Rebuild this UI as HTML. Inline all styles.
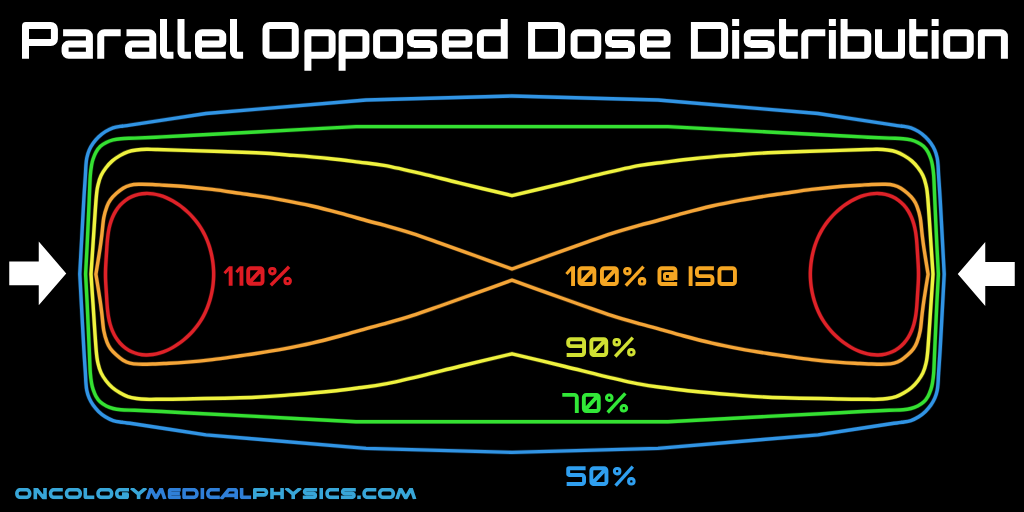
<!DOCTYPE html>
<html lang="en">
<head>
<meta charset="utf-8">
<title>Parallel Opposed Dose Distribution</title>
<style>
html,body{margin:0;padding:0;background:#000;font-family:"Liberation Sans",sans-serif;}
body{width:1024px;height:512px;overflow:hidden;}
svg{display:block;filter:blur(0.45px);}
</style>
</head>
<body>
<svg width="1024" height="512" viewBox="0 0 1024 512">
<rect width="1024" height="512" fill="#000"/>
<path d="M79.8 274.2C80.05 269.5 80.63 258.37 81.3 246C81.97 233.63 83.12 211.75 83.8 200C84.48 188.25 85.05 181.17 85.4 175.5C85.75 169.83 85.67 168.92 85.9 166C86.13 163.08 86.25 160.63 86.8 158C87.35 155.37 88.15 152.65 89.2 150.2C90.25 147.75 91.55 145.5 93.1 143.3C94.65 141.1 96.47 138.95 98.5 137C100.53 135.05 102.87 133.13 105.3 131.6C107.73 130.07 110.33 128.72 113.1 127.8C115.87 126.88 119.08 126.55 121.9 126.1C124.72 125.65 115.98 127.2 130 125.1C144.02 123 193.33 115.43 206 113.5L366 100L512 96L658 100L818 113.5C830.67 115.43 879.98 123 894 125.1C908.02 127.2 899.28 125.65 902.1 126.1C904.92 126.55 908.13 126.88 910.9 127.8C913.67 128.72 916.27 130.07 918.7 131.6C921.13 133.13 923.47 135.05 925.5 137C927.53 138.95 929.35 141.1 930.9 143.3C932.45 145.5 933.75 147.75 934.8 150.2C935.85 152.65 936.65 155.37 937.2 158C937.75 160.63 937.87 163.08 938.1 166C938.33 168.92 938.25 169.83 938.6 175.5C938.95 181.17 939.52 188.25 940.2 200C940.88 211.75 942.03 233.63 942.7 246C943.37 258.37 943.95 269.5 944.2 274.2C943.95 278.9 943.37 290.03 942.7 302.4C942.03 314.77 940.88 336.65 940.2 348.4C939.52 360.15 938.95 367.23 938.6 372.9C938.25 378.57 938.33 379.48 938.1 382.4C937.87 385.32 937.75 387.77 937.2 390.4C936.65 393.03 935.85 395.75 934.8 398.2C933.75 400.65 932.45 402.9 930.9 405.1C929.35 407.3 927.53 409.45 925.5 411.4C923.47 413.35 921.13 415.27 918.7 416.8C916.27 418.33 913.67 419.68 910.9 420.6C908.13 421.52 904.92 421.85 902.1 422.3C899.28 422.75 908.02 421.2 894 423.3C879.98 425.4 830.67 432.97 818 434.9L658 448.4L512 452.4L366 448.4L206 434.9C193.33 432.97 144.02 425.4 130 423.3C115.98 421.2 124.72 422.75 121.9 422.3C119.08 421.85 115.87 421.52 113.1 420.6C110.33 419.68 107.73 418.33 105.3 416.8C102.87 415.27 100.53 413.35 98.5 411.4C96.47 409.45 94.65 407.3 93.1 405.1C91.55 402.9 90.25 400.65 89.2 398.2C88.15 395.75 87.35 393.03 86.8 390.4C86.25 387.77 86.13 385.32 85.9 382.4C85.67 379.48 85.75 378.57 85.4 372.9C85.05 367.23 84.48 360.15 83.8 348.4C83.12 336.65 81.97 314.77 81.3 302.4C80.63 290.03 80.05 278.9 79.8 274.2Z" fill="none" stroke="#3194e4" stroke-width="4.6" stroke-opacity="0.25" stroke-linejoin="round"/>
<path d="M79.8 274.2C80.05 269.5 80.63 258.37 81.3 246C81.97 233.63 83.12 211.75 83.8 200C84.48 188.25 85.05 181.17 85.4 175.5C85.75 169.83 85.67 168.92 85.9 166C86.13 163.08 86.25 160.63 86.8 158C87.35 155.37 88.15 152.65 89.2 150.2C90.25 147.75 91.55 145.5 93.1 143.3C94.65 141.1 96.47 138.95 98.5 137C100.53 135.05 102.87 133.13 105.3 131.6C107.73 130.07 110.33 128.72 113.1 127.8C115.87 126.88 119.08 126.55 121.9 126.1C124.72 125.65 115.98 127.2 130 125.1C144.02 123 193.33 115.43 206 113.5L366 100L512 96L658 100L818 113.5C830.67 115.43 879.98 123 894 125.1C908.02 127.2 899.28 125.65 902.1 126.1C904.92 126.55 908.13 126.88 910.9 127.8C913.67 128.72 916.27 130.07 918.7 131.6C921.13 133.13 923.47 135.05 925.5 137C927.53 138.95 929.35 141.1 930.9 143.3C932.45 145.5 933.75 147.75 934.8 150.2C935.85 152.65 936.65 155.37 937.2 158C937.75 160.63 937.87 163.08 938.1 166C938.33 168.92 938.25 169.83 938.6 175.5C938.95 181.17 939.52 188.25 940.2 200C940.88 211.75 942.03 233.63 942.7 246C943.37 258.37 943.95 269.5 944.2 274.2C943.95 278.9 943.37 290.03 942.7 302.4C942.03 314.77 940.88 336.65 940.2 348.4C939.52 360.15 938.95 367.23 938.6 372.9C938.25 378.57 938.33 379.48 938.1 382.4C937.87 385.32 937.75 387.77 937.2 390.4C936.65 393.03 935.85 395.75 934.8 398.2C933.75 400.65 932.45 402.9 930.9 405.1C929.35 407.3 927.53 409.45 925.5 411.4C923.47 413.35 921.13 415.27 918.7 416.8C916.27 418.33 913.67 419.68 910.9 420.6C908.13 421.52 904.92 421.85 902.1 422.3C899.28 422.75 908.02 421.2 894 423.3C879.98 425.4 830.67 432.97 818 434.9L658 448.4L512 452.4L366 448.4L206 434.9C193.33 432.97 144.02 425.4 130 423.3C115.98 421.2 124.72 422.75 121.9 422.3C119.08 421.85 115.87 421.52 113.1 420.6C110.33 419.68 107.73 418.33 105.3 416.8C102.87 415.27 100.53 413.35 98.5 411.4C96.47 409.45 94.65 407.3 93.1 405.1C91.55 402.9 90.25 400.65 89.2 398.2C88.15 395.75 87.35 393.03 86.8 390.4C86.25 387.77 86.13 385.32 85.9 382.4C85.67 379.48 85.75 378.57 85.4 372.9C85.05 367.23 84.48 360.15 83.8 348.4C83.12 336.65 81.97 314.77 81.3 302.4C80.63 290.03 80.05 278.9 79.8 274.2Z" fill="none" stroke="#3194e4" stroke-width="3.4" stroke-linejoin="round" stroke-linecap="round"/>
<path d="M85.6 274.2C85.85 269.5 86.5 258.37 87.1 246C87.7 233.63 88.67 211.75 89.2 200C89.73 188.25 89.88 181.42 90.3 175.5C90.72 169.58 91.23 167.25 91.7 164.5C92.17 161.75 92.38 161.07 93.1 159C93.82 156.93 94.78 154.22 96 152.1C97.22 149.98 98.68 147.92 100.4 146.3C102.12 144.68 104.18 143.47 106.3 142.4C108.42 141.33 110.67 140.52 113.1 139.9C115.53 139.28 117.32 139 120.9 138.7C124.48 138.4 128.75 138.35 134.6 138.1C140.45 137.85 147.77 137.6 156 137.2C164.23 136.8 167.33 136.57 184 135.7C200.67 134.83 227.33 133.52 256 132C284.67 130.48 339.33 127.5 356 126.6L512 126.6L668 126.6C684.67 127.5 739.33 130.48 768 132C796.67 133.52 823.33 134.83 840 135.7C856.67 136.57 859.77 136.8 868 137.2C876.23 137.6 883.55 137.85 889.4 138.1C895.25 138.35 899.52 138.4 903.1 138.7C906.68 139 908.47 139.28 910.9 139.9C913.33 140.52 915.58 141.33 917.7 142.4C919.82 143.47 921.88 144.68 923.6 146.3C925.32 147.92 926.78 149.98 928 152.1C929.22 154.22 930.18 156.93 930.9 159C931.62 161.07 931.83 161.75 932.3 164.5C932.77 167.25 933.28 169.58 933.7 175.5C934.12 181.42 934.27 188.25 934.8 200C935.33 211.75 936.3 233.63 936.9 246C937.5 258.37 938.15 269.5 938.4 274.2C938.15 278.9 937.5 290.03 936.9 302.4C936.3 314.77 935.33 336.65 934.8 348.4C934.27 360.15 934.12 366.98 933.7 372.9C933.28 378.82 932.77 381.15 932.3 383.9C931.83 386.65 931.62 387.33 930.9 389.4C930.18 391.47 929.22 394.18 928 396.3C926.78 398.42 925.32 400.48 923.6 402.1C921.88 403.72 919.82 404.93 917.7 406C915.58 407.07 913.33 407.88 910.9 408.5C908.47 409.12 906.68 409.4 903.1 409.7C899.52 410 895.25 410.05 889.4 410.3C883.55 410.55 876.23 410.8 868 411.2C859.77 411.6 856.67 411.83 840 412.7C823.33 413.57 796.67 414.88 768 416.4C739.33 417.92 684.67 420.9 668 421.8L512 421.8L356 421.8C339.33 420.9 284.67 417.92 256 416.4C227.33 414.88 200.67 413.57 184 412.7C167.33 411.83 164.23 411.6 156 411.2C147.77 410.8 140.45 410.55 134.6 410.3C128.75 410.05 124.48 410 120.9 409.7C117.32 409.4 115.53 409.12 113.1 408.5C110.67 407.88 108.42 407.07 106.3 406C104.18 404.93 102.12 403.72 100.4 402.1C98.68 400.48 97.22 398.42 96 396.3C94.78 394.18 93.82 391.47 93.1 389.4C92.38 387.33 92.17 386.65 91.7 383.9C91.23 381.15 90.72 378.82 90.3 372.9C89.88 366.98 89.73 360.15 89.2 348.4C88.67 336.65 87.7 314.77 87.1 302.4C86.5 290.03 85.85 278.9 85.6 274.2Z" fill="none" stroke="#35e032" stroke-width="4.6" stroke-opacity="0.25" stroke-linejoin="round"/>
<path d="M85.6 274.2C85.85 269.5 86.5 258.37 87.1 246C87.7 233.63 88.67 211.75 89.2 200C89.73 188.25 89.88 181.42 90.3 175.5C90.72 169.58 91.23 167.25 91.7 164.5C92.17 161.75 92.38 161.07 93.1 159C93.82 156.93 94.78 154.22 96 152.1C97.22 149.98 98.68 147.92 100.4 146.3C102.12 144.68 104.18 143.47 106.3 142.4C108.42 141.33 110.67 140.52 113.1 139.9C115.53 139.28 117.32 139 120.9 138.7C124.48 138.4 128.75 138.35 134.6 138.1C140.45 137.85 147.77 137.6 156 137.2C164.23 136.8 167.33 136.57 184 135.7C200.67 134.83 227.33 133.52 256 132C284.67 130.48 339.33 127.5 356 126.6L512 126.6L668 126.6C684.67 127.5 739.33 130.48 768 132C796.67 133.52 823.33 134.83 840 135.7C856.67 136.57 859.77 136.8 868 137.2C876.23 137.6 883.55 137.85 889.4 138.1C895.25 138.35 899.52 138.4 903.1 138.7C906.68 139 908.47 139.28 910.9 139.9C913.33 140.52 915.58 141.33 917.7 142.4C919.82 143.47 921.88 144.68 923.6 146.3C925.32 147.92 926.78 149.98 928 152.1C929.22 154.22 930.18 156.93 930.9 159C931.62 161.07 931.83 161.75 932.3 164.5C932.77 167.25 933.28 169.58 933.7 175.5C934.12 181.42 934.27 188.25 934.8 200C935.33 211.75 936.3 233.63 936.9 246C937.5 258.37 938.15 269.5 938.4 274.2C938.15 278.9 937.5 290.03 936.9 302.4C936.3 314.77 935.33 336.65 934.8 348.4C934.27 360.15 934.12 366.98 933.7 372.9C933.28 378.82 932.77 381.15 932.3 383.9C931.83 386.65 931.62 387.33 930.9 389.4C930.18 391.47 929.22 394.18 928 396.3C926.78 398.42 925.32 400.48 923.6 402.1C921.88 403.72 919.82 404.93 917.7 406C915.58 407.07 913.33 407.88 910.9 408.5C908.47 409.12 906.68 409.4 903.1 409.7C899.52 410 895.25 410.05 889.4 410.3C883.55 410.55 876.23 410.8 868 411.2C859.77 411.6 856.67 411.83 840 412.7C823.33 413.57 796.67 414.88 768 416.4C739.33 417.92 684.67 420.9 668 421.8L512 421.8L356 421.8C339.33 420.9 284.67 417.92 256 416.4C227.33 414.88 200.67 413.57 184 412.7C167.33 411.83 164.23 411.6 156 411.2C147.77 410.8 140.45 410.55 134.6 410.3C128.75 410.05 124.48 410 120.9 409.7C117.32 409.4 115.53 409.12 113.1 408.5C110.67 407.88 108.42 407.07 106.3 406C104.18 404.93 102.12 403.72 100.4 402.1C98.68 400.48 97.22 398.42 96 396.3C94.78 394.18 93.82 391.47 93.1 389.4C92.38 387.33 92.17 386.65 91.7 383.9C91.23 381.15 90.72 378.82 90.3 372.9C89.88 366.98 89.73 360.15 89.2 348.4C88.67 336.65 87.7 314.77 87.1 302.4C86.5 290.03 85.85 278.9 85.6 274.2Z" fill="none" stroke="#35e032" stroke-width="3.4" stroke-linejoin="round" stroke-linecap="round"/>
<path d="M91 274.2C91.32 269.5 92.03 258.7 92.9 246C93.77 233.3 95.32 208.28 96.2 198C97.08 187.72 97.38 188.05 98.2 184.3C99.02 180.55 99.8 178.27 101.1 175.5C102.4 172.73 104.13 170.13 106 167.7C107.87 165.27 109.98 162.92 112.3 160.9C114.62 158.88 117.32 157.12 119.9 155.6C122.48 154.08 125.03 152.73 127.8 151.8C130.57 150.87 133.38 150.42 136.5 150C139.62 149.58 143.25 149.38 146.5 149.3C149.75 149.22 149.72 149.32 156 149.5C162.28 149.68 167.53 149.85 184.2 150.4C200.87 150.95 237.78 151.97 256 152.8C274.22 153.63 281 154.42 293.5 155.4C306 156.38 320.08 157.58 331 158.7C341.92 159.82 350.17 160.98 359 162.1C367.83 163.22 373.58 163.48 384 165.4C394.42 167.32 409 170.68 421.5 173.6C434 176.52 443.92 179.23 459 182.9C474.08 186.57 503.17 193.48 512 195.6C520.83 193.48 549.92 186.57 565 182.9C580.08 179.23 590 176.52 602.5 173.6C615 170.68 629.58 167.32 640 165.4C650.42 163.48 656.17 163.22 665 162.1C673.83 160.98 682.08 159.82 693 158.7C703.92 157.58 718 156.38 730.5 155.4C743 154.42 749.78 153.63 768 152.8C786.22 151.97 823.13 150.95 839.8 150.4C856.47 149.85 861.72 149.68 868 149.5C874.28 149.32 874.25 149.22 877.5 149.3C880.75 149.38 884.38 149.58 887.5 150C890.62 150.42 893.43 150.87 896.2 151.8C898.97 152.73 901.52 154.08 904.1 155.6C906.68 157.12 909.38 158.88 911.7 160.9C914.02 162.92 916.13 165.27 918 167.7C919.87 170.13 921.6 172.73 922.9 175.5C924.2 178.27 924.98 180.55 925.8 184.3C926.62 188.05 926.92 187.72 927.8 198C928.68 208.28 930.23 233.3 931.1 246C931.97 258.7 932.68 269.5 933 274.2C932.68 278.9 931.97 289.7 931.1 302.4C930.23 315.1 928.68 340.12 927.8 350.4C926.92 360.68 926.62 360.35 925.8 364.1C924.98 367.85 924.2 370.13 922.9 372.9C921.6 375.67 919.87 378.27 918 380.7C916.13 383.13 914.02 385.48 911.7 387.5C909.38 389.52 906.68 391.28 904.1 392.8C901.52 394.32 898.97 395.67 896.2 396.61C893.43 397.56 890.62 398.03 887.5 398.48C884.38 398.92 880.75 399.17 877.5 399.3C874.25 399.43 874.28 399.32 868 399.26C861.72 399.21 856.47 399.3 839.8 398.96C823.13 398.61 786.22 397.93 768 397.2C749.78 396.47 743 395.58 730.5 394.6C718 393.62 703.92 392.44 693 391.3C682.08 390.16 673.83 388.98 665 387.78C656.17 386.59 650.42 386.13 640 384.13C629.58 382.13 615 378.74 602.5 375.8C590 372.86 580.08 370.17 565 366.5C549.92 362.83 520.83 355.92 512 353.8C503.17 355.92 474.08 362.83 459 366.5C443.92 370.17 434 372.86 421.5 375.8C409 378.74 394.42 382.13 384 384.13C373.58 386.13 367.83 386.59 359 387.78C350.17 388.98 341.92 390.16 331 391.3C320.08 392.44 306 393.62 293.5 394.6C281 395.58 274.22 396.47 256 397.2C237.78 397.93 200.87 398.61 184.2 398.96C167.53 399.3 162.28 399.21 156 399.26C149.72 399.32 149.75 399.43 146.5 399.3C143.25 399.17 139.62 398.92 136.5 398.48C133.38 398.03 130.57 397.56 127.8 396.61C125.03 395.67 122.48 394.32 119.9 392.8C117.32 391.28 114.62 389.52 112.3 387.5C109.98 385.48 107.87 383.13 106 380.7C104.13 378.27 102.4 375.67 101.1 372.9C99.8 370.13 99.02 367.85 98.2 364.1C97.38 360.35 97.08 360.68 96.2 350.4C95.32 340.12 93.77 315.1 92.9 302.4C92.03 289.7 91.32 278.9 91 274.2Z" fill="none" stroke="#eff23f" stroke-width="4.6" stroke-opacity="0.25" stroke-linejoin="round"/>
<path d="M91 274.2C91.32 269.5 92.03 258.7 92.9 246C93.77 233.3 95.32 208.28 96.2 198C97.08 187.72 97.38 188.05 98.2 184.3C99.02 180.55 99.8 178.27 101.1 175.5C102.4 172.73 104.13 170.13 106 167.7C107.87 165.27 109.98 162.92 112.3 160.9C114.62 158.88 117.32 157.12 119.9 155.6C122.48 154.08 125.03 152.73 127.8 151.8C130.57 150.87 133.38 150.42 136.5 150C139.62 149.58 143.25 149.38 146.5 149.3C149.75 149.22 149.72 149.32 156 149.5C162.28 149.68 167.53 149.85 184.2 150.4C200.87 150.95 237.78 151.97 256 152.8C274.22 153.63 281 154.42 293.5 155.4C306 156.38 320.08 157.58 331 158.7C341.92 159.82 350.17 160.98 359 162.1C367.83 163.22 373.58 163.48 384 165.4C394.42 167.32 409 170.68 421.5 173.6C434 176.52 443.92 179.23 459 182.9C474.08 186.57 503.17 193.48 512 195.6C520.83 193.48 549.92 186.57 565 182.9C580.08 179.23 590 176.52 602.5 173.6C615 170.68 629.58 167.32 640 165.4C650.42 163.48 656.17 163.22 665 162.1C673.83 160.98 682.08 159.82 693 158.7C703.92 157.58 718 156.38 730.5 155.4C743 154.42 749.78 153.63 768 152.8C786.22 151.97 823.13 150.95 839.8 150.4C856.47 149.85 861.72 149.68 868 149.5C874.28 149.32 874.25 149.22 877.5 149.3C880.75 149.38 884.38 149.58 887.5 150C890.62 150.42 893.43 150.87 896.2 151.8C898.97 152.73 901.52 154.08 904.1 155.6C906.68 157.12 909.38 158.88 911.7 160.9C914.02 162.92 916.13 165.27 918 167.7C919.87 170.13 921.6 172.73 922.9 175.5C924.2 178.27 924.98 180.55 925.8 184.3C926.62 188.05 926.92 187.72 927.8 198C928.68 208.28 930.23 233.3 931.1 246C931.97 258.7 932.68 269.5 933 274.2C932.68 278.9 931.97 289.7 931.1 302.4C930.23 315.1 928.68 340.12 927.8 350.4C926.92 360.68 926.62 360.35 925.8 364.1C924.98 367.85 924.2 370.13 922.9 372.9C921.6 375.67 919.87 378.27 918 380.7C916.13 383.13 914.02 385.48 911.7 387.5C909.38 389.52 906.68 391.28 904.1 392.8C901.52 394.32 898.97 395.67 896.2 396.61C893.43 397.56 890.62 398.03 887.5 398.48C884.38 398.92 880.75 399.17 877.5 399.3C874.25 399.43 874.28 399.32 868 399.26C861.72 399.21 856.47 399.3 839.8 398.96C823.13 398.61 786.22 397.93 768 397.2C749.78 396.47 743 395.58 730.5 394.6C718 393.62 703.92 392.44 693 391.3C682.08 390.16 673.83 388.98 665 387.78C656.17 386.59 650.42 386.13 640 384.13C629.58 382.13 615 378.74 602.5 375.8C590 372.86 580.08 370.17 565 366.5C549.92 362.83 520.83 355.92 512 353.8C503.17 355.92 474.08 362.83 459 366.5C443.92 370.17 434 372.86 421.5 375.8C409 378.74 394.42 382.13 384 384.13C373.58 386.13 367.83 386.59 359 387.78C350.17 388.98 341.92 390.16 331 391.3C320.08 392.44 306 393.62 293.5 394.6C281 395.58 274.22 396.47 256 397.2C237.78 397.93 200.87 398.61 184.2 398.96C167.53 399.3 162.28 399.21 156 399.26C149.72 399.32 149.75 399.43 146.5 399.3C143.25 399.17 139.62 398.92 136.5 398.48C133.38 398.03 130.57 397.56 127.8 396.61C125.03 395.67 122.48 394.32 119.9 392.8C117.32 391.28 114.62 389.52 112.3 387.5C109.98 385.48 107.87 383.13 106 380.7C104.13 378.27 102.4 375.67 101.1 372.9C99.8 370.13 99.02 367.85 98.2 364.1C97.38 360.35 97.08 360.68 96.2 350.4C95.32 340.12 93.77 315.1 92.9 302.4C92.03 289.7 91.32 278.9 91 274.2Z" fill="none" stroke="#eff23f" stroke-width="3.4" stroke-linejoin="round" stroke-linecap="round"/>
<path d="M95.9 274.2C96.6 269.83 99.1 254.67 100.1 248C101.1 241.33 101.28 239.27 101.9 234.2C102.52 229.13 102.95 222.25 103.8 217.6C104.65 212.95 105.88 209.28 107 206.3C108.12 203.32 108.97 201.82 110.5 199.7C112.03 197.58 114.1 195.52 116.2 193.6C118.3 191.68 120.82 189.58 123.1 188.2C125.38 186.82 127.3 185.95 129.9 185.3C132.5 184.65 134.95 184.43 138.7 184.3C142.45 184.17 148.18 184.35 152.4 184.5C156.62 184.65 158.7 184.87 164 185.2C169.3 185.53 176.15 185.8 184.2 186.5C192.25 187.2 202.93 188.25 212.3 189.4C221.67 190.55 233.12 192.37 240.4 193.4C247.68 194.43 248.73 194.45 256 195.6C263.27 196.75 274.67 198.57 284 200.3C293.33 202.03 302.67 203.87 312 206C321.33 208.13 330.67 210.6 340 213.1C349.33 215.6 360.67 218.98 368 221C375.33 223.02 376.67 223.13 384 225.2C391.33 227.27 402.67 230.42 412 233.4C421.33 236.38 429.33 239.33 440 243.1C450.67 246.87 464 251.68 476 256C488 260.32 506 266.83 512 269C518 266.83 536 260.32 548 256C560 251.68 573.33 246.87 584 243.1C594.67 239.33 602.67 236.38 612 233.4C621.33 230.42 632.67 227.27 640 225.2C647.33 223.13 648.67 223.02 656 221C663.33 218.98 674.67 215.6 684 213.1C693.33 210.6 702.67 208.13 712 206C721.33 203.87 730.67 202.03 740 200.3C749.33 198.57 760.73 196.75 768 195.6C775.27 194.45 776.32 194.43 783.6 193.4C790.88 192.37 802.33 190.55 811.7 189.4C821.07 188.25 831.75 187.2 839.8 186.5C847.85 185.8 854.7 185.53 860 185.2C865.3 184.87 867.38 184.65 871.6 184.5C875.82 184.35 881.55 184.17 885.3 184.3C889.05 184.43 891.5 184.65 894.1 185.3C896.7 185.95 898.62 186.82 900.9 188.2C903.18 189.58 905.7 191.68 907.8 193.6C909.9 195.52 911.97 197.58 913.5 199.7C915.03 201.82 915.88 203.32 917 206.3C918.12 209.28 919.35 212.95 920.2 217.6C921.05 222.25 921.48 229.13 922.1 234.2C922.72 239.27 922.9 241.33 923.9 248C924.9 254.67 927.4 269.83 928.1 274.2C927.4 278.57 924.9 293.73 923.9 300.4C922.9 307.07 922.72 309.13 922.1 314.2C921.48 319.27 921.05 326.15 920.2 330.8C919.35 335.45 918.12 339.12 917 342.1C915.88 345.08 915.03 346.58 913.5 348.7C911.97 350.82 909.9 352.88 907.8 354.8C905.7 356.72 903.18 358.82 900.9 360.2C898.62 361.59 896.7 362.45 894.1 363.11C891.5 363.77 889.05 363.99 885.3 364.14C881.55 364.3 875.82 364.15 871.6 364.03C867.38 363.91 865.3 363.71 860 363.43C854.7 363.14 847.85 362.95 839.8 362.32C831.75 361.69 821.07 360.74 811.7 359.64C802.33 358.54 790.88 356.72 783.6 355.7C776.32 354.68 775.27 354.65 768 353.5C760.73 352.35 749.33 350.53 740 348.8C730.67 347.07 721.33 345.23 712 343.1C702.67 340.97 693.33 338.5 684 336C674.67 333.5 663.33 330.12 656 328.1C648.67 326.08 647.33 325.97 640 323.9C632.67 321.83 621.33 318.68 612 315.7C602.67 312.72 594.67 309.77 584 306C573.33 302.23 560 297.42 548 293.1C536 288.78 518 282.27 512 280.1C506 282.27 488 288.78 476 293.1C464 297.42 450.67 302.23 440 306C429.33 309.77 421.33 312.72 412 315.7C402.67 318.68 391.33 321.83 384 323.9C376.67 325.97 375.33 326.08 368 328.1C360.67 330.12 349.33 333.5 340 336C330.67 338.5 321.33 340.97 312 343.1C302.67 345.23 293.33 347.07 284 348.8C274.67 350.53 263.27 352.35 256 353.5C248.73 354.65 247.68 354.68 240.4 355.7C233.12 356.72 221.67 358.54 212.3 359.64C202.93 360.74 192.25 361.69 184.2 362.32C176.15 362.95 169.3 363.14 164 363.43C158.7 363.71 156.62 363.91 152.4 364.03C148.18 364.15 142.45 364.3 138.7 364.14C134.95 363.99 132.5 363.77 129.9 363.11C127.3 362.45 125.38 361.59 123.1 360.2C120.82 358.82 118.3 356.72 116.2 354.8C114.1 352.88 112.03 350.82 110.5 348.7C108.97 346.58 108.12 345.08 107 342.1C105.88 339.12 104.65 335.45 103.8 330.8C102.95 326.15 102.52 319.27 101.9 314.2C101.28 309.13 101.1 307.07 100.1 300.4C99.1 293.73 96.6 278.57 95.9 274.2Z" fill="none" stroke="#f4a538" stroke-width="4.6" stroke-opacity="0.25" stroke-linejoin="round"/>
<path d="M95.9 274.2C96.6 269.83 99.1 254.67 100.1 248C101.1 241.33 101.28 239.27 101.9 234.2C102.52 229.13 102.95 222.25 103.8 217.6C104.65 212.95 105.88 209.28 107 206.3C108.12 203.32 108.97 201.82 110.5 199.7C112.03 197.58 114.1 195.52 116.2 193.6C118.3 191.68 120.82 189.58 123.1 188.2C125.38 186.82 127.3 185.95 129.9 185.3C132.5 184.65 134.95 184.43 138.7 184.3C142.45 184.17 148.18 184.35 152.4 184.5C156.62 184.65 158.7 184.87 164 185.2C169.3 185.53 176.15 185.8 184.2 186.5C192.25 187.2 202.93 188.25 212.3 189.4C221.67 190.55 233.12 192.37 240.4 193.4C247.68 194.43 248.73 194.45 256 195.6C263.27 196.75 274.67 198.57 284 200.3C293.33 202.03 302.67 203.87 312 206C321.33 208.13 330.67 210.6 340 213.1C349.33 215.6 360.67 218.98 368 221C375.33 223.02 376.67 223.13 384 225.2C391.33 227.27 402.67 230.42 412 233.4C421.33 236.38 429.33 239.33 440 243.1C450.67 246.87 464 251.68 476 256C488 260.32 506 266.83 512 269C518 266.83 536 260.32 548 256C560 251.68 573.33 246.87 584 243.1C594.67 239.33 602.67 236.38 612 233.4C621.33 230.42 632.67 227.27 640 225.2C647.33 223.13 648.67 223.02 656 221C663.33 218.98 674.67 215.6 684 213.1C693.33 210.6 702.67 208.13 712 206C721.33 203.87 730.67 202.03 740 200.3C749.33 198.57 760.73 196.75 768 195.6C775.27 194.45 776.32 194.43 783.6 193.4C790.88 192.37 802.33 190.55 811.7 189.4C821.07 188.25 831.75 187.2 839.8 186.5C847.85 185.8 854.7 185.53 860 185.2C865.3 184.87 867.38 184.65 871.6 184.5C875.82 184.35 881.55 184.17 885.3 184.3C889.05 184.43 891.5 184.65 894.1 185.3C896.7 185.95 898.62 186.82 900.9 188.2C903.18 189.58 905.7 191.68 907.8 193.6C909.9 195.52 911.97 197.58 913.5 199.7C915.03 201.82 915.88 203.32 917 206.3C918.12 209.28 919.35 212.95 920.2 217.6C921.05 222.25 921.48 229.13 922.1 234.2C922.72 239.27 922.9 241.33 923.9 248C924.9 254.67 927.4 269.83 928.1 274.2C927.4 278.57 924.9 293.73 923.9 300.4C922.9 307.07 922.72 309.13 922.1 314.2C921.48 319.27 921.05 326.15 920.2 330.8C919.35 335.45 918.12 339.12 917 342.1C915.88 345.08 915.03 346.58 913.5 348.7C911.97 350.82 909.9 352.88 907.8 354.8C905.7 356.72 903.18 358.82 900.9 360.2C898.62 361.59 896.7 362.45 894.1 363.11C891.5 363.77 889.05 363.99 885.3 364.14C881.55 364.3 875.82 364.15 871.6 364.03C867.38 363.91 865.3 363.71 860 363.43C854.7 363.14 847.85 362.95 839.8 362.32C831.75 361.69 821.07 360.74 811.7 359.64C802.33 358.54 790.88 356.72 783.6 355.7C776.32 354.68 775.27 354.65 768 353.5C760.73 352.35 749.33 350.53 740 348.8C730.67 347.07 721.33 345.23 712 343.1C702.67 340.97 693.33 338.5 684 336C674.67 333.5 663.33 330.12 656 328.1C648.67 326.08 647.33 325.97 640 323.9C632.67 321.83 621.33 318.68 612 315.7C602.67 312.72 594.67 309.77 584 306C573.33 302.23 560 297.42 548 293.1C536 288.78 518 282.27 512 280.1C506 282.27 488 288.78 476 293.1C464 297.42 450.67 302.23 440 306C429.33 309.77 421.33 312.72 412 315.7C402.67 318.68 391.33 321.83 384 323.9C376.67 325.97 375.33 326.08 368 328.1C360.67 330.12 349.33 333.5 340 336C330.67 338.5 321.33 340.97 312 343.1C302.67 345.23 293.33 347.07 284 348.8C274.67 350.53 263.27 352.35 256 353.5C248.73 354.65 247.68 354.68 240.4 355.7C233.12 356.72 221.67 358.54 212.3 359.64C202.93 360.74 192.25 361.69 184.2 362.32C176.15 362.95 169.3 363.14 164 363.43C158.7 363.71 156.62 363.91 152.4 364.03C148.18 364.15 142.45 364.3 138.7 364.14C134.95 363.99 132.5 363.77 129.9 363.11C127.3 362.45 125.38 361.59 123.1 360.2C120.82 358.82 118.3 356.72 116.2 354.8C114.1 352.88 112.03 350.82 110.5 348.7C108.97 346.58 108.12 345.08 107 342.1C105.88 339.12 104.65 335.45 103.8 330.8C102.95 326.15 102.52 319.27 101.9 314.2C101.28 309.13 101.1 307.07 100.1 300.4C99.1 293.73 96.6 278.57 95.9 274.2Z" fill="none" stroke="#f4a538" stroke-width="3.4" stroke-linejoin="round" stroke-linecap="round"/>
<path d="M213.66 274.2C213.66 272.64 213.62 271.08 213.53 269.52C213.45 267.95 213.33 266.39 213.16 264.83C213 263.26 212.79 261.69 212.54 260.12C212.3 258.55 212.01 256.97 211.68 255.39C211.34 253.81 210.97 252.22 210.55 250.63C210.13 249.03 209.66 247.43 209.14 245.83C208.62 244.22 208.05 242.61 207.42 241C206.79 239.38 206.1 237.77 205.34 236.15C204.58 234.54 203.76 232.93 202.87 231.33C201.98 229.73 201.01 228.13 199.98 226.56C198.94 224.98 197.83 223.42 196.64 221.87C195.45 220.33 194.19 218.81 192.85 217.31C191.5 215.81 190.09 214.33 188.59 212.89C187.09 211.45 185.51 210.03 183.85 208.66C182.19 207.29 180.45 205.95 178.63 204.68C176.8 203.41 174.89 202.17 172.9 201.04C170.91 199.9 168.83 198.82 166.68 197.89C164.53 196.95 162.28 196.09 160 195.42C157.72 194.75 155.34 194.19 152.97 193.86C150.6 193.53 148.16 193.36 145.76 193.44C143.36 193.51 140.93 193.79 138.6 194.32C136.26 194.85 133.94 195.61 131.76 196.61C129.58 197.6 127.46 198.84 125.52 200.27C123.59 201.69 121.77 203.37 120.14 205.16C118.51 206.95 117.04 208.96 115.76 211.02C114.47 213.08 113.38 215.3 112.43 217.51C111.49 219.72 110.74 222.04 110.09 224.29C109.45 226.55 108.98 228.84 108.58 231.05C108.17 233.26 107.9 235.45 107.66 237.55C107.41 239.65 107.26 241.69 107.11 243.66C106.95 245.63 106.84 247.52 106.73 249.36C106.61 251.2 106.51 252.96 106.4 254.69C106.29 256.42 106.18 258.09 106.08 259.75C105.97 261.41 105.87 263.03 105.78 264.64C105.7 266.25 105.62 267.84 105.57 269.44C105.52 271.03 105.49 272.61 105.49 274.2C105.49 275.79 105.52 277.37 105.57 278.96C105.62 280.56 105.7 282.15 105.78 283.76C105.87 285.37 105.97 286.99 106.08 288.65C106.18 290.31 106.29 291.98 106.4 293.71C106.51 295.44 106.61 297.2 106.73 299.04C106.84 300.88 106.95 302.77 107.11 304.74C107.26 306.71 107.41 308.75 107.66 310.85C107.9 312.95 108.17 315.14 108.58 317.35C108.98 319.56 109.45 321.85 110.09 324.11C110.74 326.36 111.49 328.68 112.43 330.89C113.38 333.1 114.47 335.32 115.76 337.38C117.04 339.44 118.51 341.45 120.14 343.24C121.77 345.03 123.59 346.71 125.52 348.13C127.46 349.56 129.58 350.8 131.76 351.79C133.94 352.79 136.26 353.55 138.6 354.08C140.93 354.61 143.36 354.89 145.76 354.96C148.16 355.04 150.6 354.87 152.97 354.54C155.34 354.21 157.72 353.65 160 352.98C162.28 352.31 164.53 351.45 166.68 350.51C168.83 349.58 170.91 348.5 172.9 347.36C174.89 346.23 176.8 344.99 178.63 343.72C180.45 342.45 182.19 341.11 183.85 339.74C185.51 338.37 187.09 336.95 188.59 335.51C190.09 334.07 191.5 332.59 192.85 331.09C194.19 329.59 195.45 328.07 196.64 326.53C197.83 324.98 198.94 323.42 199.98 321.84C201.01 320.27 201.98 318.67 202.87 317.07C203.76 315.47 204.58 313.86 205.34 312.25C206.1 310.63 206.79 309.02 207.42 307.4C208.05 305.79 208.62 304.18 209.14 302.57C209.66 300.97 210.13 299.37 210.55 297.77C210.97 296.18 211.34 294.59 211.68 293.01C212.01 291.43 212.3 289.85 212.54 288.28C212.79 286.71 213 285.14 213.16 283.57C213.33 282.01 213.45 280.45 213.53 278.88C213.62 277.32 213.66 275.76 213.66 274.2Z" fill="none" stroke="#de2228" stroke-width="4.6" stroke-opacity="0.25" stroke-linejoin="round"/>
<path d="M213.66 274.2C213.66 272.64 213.62 271.08 213.53 269.52C213.45 267.95 213.33 266.39 213.16 264.83C213 263.26 212.79 261.69 212.54 260.12C212.3 258.55 212.01 256.97 211.68 255.39C211.34 253.81 210.97 252.22 210.55 250.63C210.13 249.03 209.66 247.43 209.14 245.83C208.62 244.22 208.05 242.61 207.42 241C206.79 239.38 206.1 237.77 205.34 236.15C204.58 234.54 203.76 232.93 202.87 231.33C201.98 229.73 201.01 228.13 199.98 226.56C198.94 224.98 197.83 223.42 196.64 221.87C195.45 220.33 194.19 218.81 192.85 217.31C191.5 215.81 190.09 214.33 188.59 212.89C187.09 211.45 185.51 210.03 183.85 208.66C182.19 207.29 180.45 205.95 178.63 204.68C176.8 203.41 174.89 202.17 172.9 201.04C170.91 199.9 168.83 198.82 166.68 197.89C164.53 196.95 162.28 196.09 160 195.42C157.72 194.75 155.34 194.19 152.97 193.86C150.6 193.53 148.16 193.36 145.76 193.44C143.36 193.51 140.93 193.79 138.6 194.32C136.26 194.85 133.94 195.61 131.76 196.61C129.58 197.6 127.46 198.84 125.52 200.27C123.59 201.69 121.77 203.37 120.14 205.16C118.51 206.95 117.04 208.96 115.76 211.02C114.47 213.08 113.38 215.3 112.43 217.51C111.49 219.72 110.74 222.04 110.09 224.29C109.45 226.55 108.98 228.84 108.58 231.05C108.17 233.26 107.9 235.45 107.66 237.55C107.41 239.65 107.26 241.69 107.11 243.66C106.95 245.63 106.84 247.52 106.73 249.36C106.61 251.2 106.51 252.96 106.4 254.69C106.29 256.42 106.18 258.09 106.08 259.75C105.97 261.41 105.87 263.03 105.78 264.64C105.7 266.25 105.62 267.84 105.57 269.44C105.52 271.03 105.49 272.61 105.49 274.2C105.49 275.79 105.52 277.37 105.57 278.96C105.62 280.56 105.7 282.15 105.78 283.76C105.87 285.37 105.97 286.99 106.08 288.65C106.18 290.31 106.29 291.98 106.4 293.71C106.51 295.44 106.61 297.2 106.73 299.04C106.84 300.88 106.95 302.77 107.11 304.74C107.26 306.71 107.41 308.75 107.66 310.85C107.9 312.95 108.17 315.14 108.58 317.35C108.98 319.56 109.45 321.85 110.09 324.11C110.74 326.36 111.49 328.68 112.43 330.89C113.38 333.1 114.47 335.32 115.76 337.38C117.04 339.44 118.51 341.45 120.14 343.24C121.77 345.03 123.59 346.71 125.52 348.13C127.46 349.56 129.58 350.8 131.76 351.79C133.94 352.79 136.26 353.55 138.6 354.08C140.93 354.61 143.36 354.89 145.76 354.96C148.16 355.04 150.6 354.87 152.97 354.54C155.34 354.21 157.72 353.65 160 352.98C162.28 352.31 164.53 351.45 166.68 350.51C168.83 349.58 170.91 348.5 172.9 347.36C174.89 346.23 176.8 344.99 178.63 343.72C180.45 342.45 182.19 341.11 183.85 339.74C185.51 338.37 187.09 336.95 188.59 335.51C190.09 334.07 191.5 332.59 192.85 331.09C194.19 329.59 195.45 328.07 196.64 326.53C197.83 324.98 198.94 323.42 199.98 321.84C201.01 320.27 201.98 318.67 202.87 317.07C203.76 315.47 204.58 313.86 205.34 312.25C206.1 310.63 206.79 309.02 207.42 307.4C208.05 305.79 208.62 304.18 209.14 302.57C209.66 300.97 210.13 299.37 210.55 297.77C210.97 296.18 211.34 294.59 211.68 293.01C212.01 291.43 212.3 289.85 212.54 288.28C212.79 286.71 213 285.14 213.16 283.57C213.33 282.01 213.45 280.45 213.53 278.88C213.62 277.32 213.66 275.76 213.66 274.2Z" fill="none" stroke="#de2228" stroke-width="3.4" stroke-linejoin="round"/>
<path d="M810.34 274.2C810.34 272.64 810.38 271.08 810.47 269.52C810.55 267.95 810.67 266.39 810.84 264.83C811 263.26 811.21 261.69 811.46 260.12C811.7 258.55 811.99 256.97 812.32 255.39C812.66 253.81 813.03 252.22 813.45 250.63C813.87 249.03 814.34 247.43 814.86 245.83C815.38 244.22 815.95 242.61 816.58 241C817.21 239.38 817.9 237.77 818.66 236.15C819.42 234.54 820.24 232.93 821.13 231.33C822.02 229.73 822.99 228.13 824.02 226.56C825.06 224.98 826.17 223.42 827.36 221.87C828.55 220.33 829.81 218.81 831.15 217.31C832.5 215.81 833.91 214.33 835.41 212.89C836.91 211.45 838.49 210.03 840.15 208.66C841.81 207.29 843.55 205.95 845.37 204.68C847.2 203.41 849.11 202.17 851.1 201.04C853.09 199.9 855.17 198.82 857.32 197.89C859.47 196.95 861.72 196.09 864 195.42C866.28 194.75 868.66 194.19 871.03 193.86C873.4 193.53 875.84 193.36 878.24 193.44C880.64 193.51 883.07 193.79 885.4 194.32C887.74 194.85 890.06 195.61 892.24 196.61C894.42 197.6 896.54 198.84 898.48 200.27C900.41 201.69 902.23 203.37 903.86 205.16C905.49 206.95 906.96 208.96 908.24 211.02C909.53 213.08 910.62 215.3 911.57 217.51C912.51 219.72 913.26 222.04 913.91 224.29C914.55 226.55 915.02 228.84 915.42 231.05C915.83 233.26 916.1 235.45 916.34 237.55C916.59 239.65 916.74 241.69 916.89 243.66C917.05 245.63 917.16 247.52 917.27 249.36C917.39 251.2 917.49 252.96 917.6 254.69C917.71 256.42 917.82 258.09 917.92 259.75C918.03 261.41 918.13 263.03 918.22 264.64C918.3 266.25 918.38 267.84 918.43 269.44C918.48 271.03 918.51 272.61 918.51 274.2C918.51 275.79 918.48 277.37 918.43 278.96C918.38 280.56 918.3 282.15 918.22 283.76C918.13 285.37 918.03 286.99 917.92 288.65C917.82 290.31 917.71 291.98 917.6 293.71C917.49 295.44 917.39 297.2 917.27 299.04C917.16 300.88 917.05 302.77 916.89 304.74C916.74 306.71 916.59 308.75 916.34 310.85C916.1 312.95 915.83 315.14 915.42 317.35C915.02 319.56 914.55 321.85 913.91 324.11C913.26 326.36 912.51 328.68 911.57 330.89C910.62 333.1 909.53 335.32 908.24 337.38C906.96 339.44 905.49 341.45 903.86 343.24C902.23 345.03 900.41 346.71 898.48 348.13C896.54 349.56 894.42 350.8 892.24 351.79C890.06 352.79 887.74 353.55 885.4 354.08C883.07 354.61 880.64 354.89 878.24 354.96C875.84 355.04 873.4 354.87 871.03 354.54C868.66 354.21 866.28 353.65 864 352.98C861.72 352.31 859.47 351.45 857.32 350.51C855.17 349.58 853.09 348.5 851.1 347.36C849.11 346.23 847.2 344.99 845.37 343.72C843.55 342.45 841.81 341.11 840.15 339.74C838.49 338.37 836.91 336.95 835.41 335.51C833.91 334.07 832.5 332.59 831.15 331.09C829.81 329.59 828.55 328.07 827.36 326.53C826.17 324.98 825.06 323.42 824.02 321.84C822.99 320.27 822.02 318.67 821.13 317.07C820.24 315.47 819.42 313.86 818.66 312.25C817.9 310.63 817.21 309.02 816.58 307.4C815.95 305.79 815.38 304.18 814.86 302.57C814.34 300.97 813.87 299.37 813.45 297.77C813.03 296.18 812.66 294.59 812.32 293.01C811.99 291.43 811.7 289.85 811.46 288.28C811.21 286.71 811 285.14 810.84 283.57C810.67 282.01 810.55 280.45 810.47 278.88C810.38 277.32 810.34 275.76 810.34 274.2Z" fill="none" stroke="#de2228" stroke-width="4.6" stroke-opacity="0.25" stroke-linejoin="round"/>
<path d="M810.34 274.2C810.34 272.64 810.38 271.08 810.47 269.52C810.55 267.95 810.67 266.39 810.84 264.83C811 263.26 811.21 261.69 811.46 260.12C811.7 258.55 811.99 256.97 812.32 255.39C812.66 253.81 813.03 252.22 813.45 250.63C813.87 249.03 814.34 247.43 814.86 245.83C815.38 244.22 815.95 242.61 816.58 241C817.21 239.38 817.9 237.77 818.66 236.15C819.42 234.54 820.24 232.93 821.13 231.33C822.02 229.73 822.99 228.13 824.02 226.56C825.06 224.98 826.17 223.42 827.36 221.87C828.55 220.33 829.81 218.81 831.15 217.31C832.5 215.81 833.91 214.33 835.41 212.89C836.91 211.45 838.49 210.03 840.15 208.66C841.81 207.29 843.55 205.95 845.37 204.68C847.2 203.41 849.11 202.17 851.1 201.04C853.09 199.9 855.17 198.82 857.32 197.89C859.47 196.95 861.72 196.09 864 195.42C866.28 194.75 868.66 194.19 871.03 193.86C873.4 193.53 875.84 193.36 878.24 193.44C880.64 193.51 883.07 193.79 885.4 194.32C887.74 194.85 890.06 195.61 892.24 196.61C894.42 197.6 896.54 198.84 898.48 200.27C900.41 201.69 902.23 203.37 903.86 205.16C905.49 206.95 906.96 208.96 908.24 211.02C909.53 213.08 910.62 215.3 911.57 217.51C912.51 219.72 913.26 222.04 913.91 224.29C914.55 226.55 915.02 228.84 915.42 231.05C915.83 233.26 916.1 235.45 916.34 237.55C916.59 239.65 916.74 241.69 916.89 243.66C917.05 245.63 917.16 247.52 917.27 249.36C917.39 251.2 917.49 252.96 917.6 254.69C917.71 256.42 917.82 258.09 917.92 259.75C918.03 261.41 918.13 263.03 918.22 264.64C918.3 266.25 918.38 267.84 918.43 269.44C918.48 271.03 918.51 272.61 918.51 274.2C918.51 275.79 918.48 277.37 918.43 278.96C918.38 280.56 918.3 282.15 918.22 283.76C918.13 285.37 918.03 286.99 917.92 288.65C917.82 290.31 917.71 291.98 917.6 293.71C917.49 295.44 917.39 297.2 917.27 299.04C917.16 300.88 917.05 302.77 916.89 304.74C916.74 306.71 916.59 308.75 916.34 310.85C916.1 312.95 915.83 315.14 915.42 317.35C915.02 319.56 914.55 321.85 913.91 324.11C913.26 326.36 912.51 328.68 911.57 330.89C910.62 333.1 909.53 335.32 908.24 337.38C906.96 339.44 905.49 341.45 903.86 343.24C902.23 345.03 900.41 346.71 898.48 348.13C896.54 349.56 894.42 350.8 892.24 351.79C890.06 352.79 887.74 353.55 885.4 354.08C883.07 354.61 880.64 354.89 878.24 354.96C875.84 355.04 873.4 354.87 871.03 354.54C868.66 354.21 866.28 353.65 864 352.98C861.72 352.31 859.47 351.45 857.32 350.51C855.17 349.58 853.09 348.5 851.1 347.36C849.11 346.23 847.2 344.99 845.37 343.72C843.55 342.45 841.81 341.11 840.15 339.74C838.49 338.37 836.91 336.95 835.41 335.51C833.91 334.07 832.5 332.59 831.15 331.09C829.81 329.59 828.55 328.07 827.36 326.53C826.17 324.98 825.06 323.42 824.02 321.84C822.99 320.27 822.02 318.67 821.13 317.07C820.24 315.47 819.42 313.86 818.66 312.25C817.9 310.63 817.21 309.02 816.58 307.4C815.95 305.79 815.38 304.18 814.86 302.57C814.34 300.97 813.87 299.37 813.45 297.77C813.03 296.18 812.66 294.59 812.32 293.01C811.99 291.43 811.7 289.85 811.46 288.28C811.21 286.71 811 285.14 810.84 283.57C810.67 282.01 810.55 280.45 810.47 278.88C810.38 277.32 810.34 275.76 810.34 274.2Z" fill="none" stroke="#de2228" stroke-width="3.4" stroke-linejoin="round"/>
<polygon points="9.25,261.5 38.75,261.5 38.75,241.5 66.25,273.4 38.75,305.3 38.75,285.3 9.25,285.3" fill="#fff"/>
<polygon points="1014.75,262.1 985.25,262.1 985.25,242.1 957.75,274 985.25,305.9 985.25,285.9 1014.75,285.9" fill="#fff"/>
<g fill="none" stroke="#fff" stroke-linejoin="miter" stroke-linecap="butt">
<path d="M25.5 58.8L25.5 25.9A0.4 0.4 0 0 1 25.9 25.5L50.8 25.5A3.6 3.6 0 0 1 54.4 29.1L54.4 39A3.6 3.6 0 0 1 50.8 42.6L25.5 42.6M63.1 32.7L85.8 32.7A3.6 3.6 0 0 1 89.4 36.3L89.4 58.8M89.4 55.3L68.7 55.3A3.6 3.6 0 0 1 65.1 51.7L65.1 47.69A3.6 3.6 0 0 1 68.7 44.09L89.4 44.09M100.75 58.8L100.75 36.3A3.6 3.6 0 0 1 104.35 32.7L120.7 32.7M126.5 32.7L149.15 32.7A3.6 3.6 0 0 1 152.75 36.3L152.75 58.8M152.75 55.3L132.1 55.3A3.6 3.6 0 0 1 128.5 51.7L128.5 47.69A3.6 3.6 0 0 1 132.1 44.09L152.75 44.09M163.5 18.9L163.5 51.7A3.6 3.6 0 0 0 167.1 55.3L173.45 55.3M181 18.9L181 51.7A3.6 3.6 0 0 0 184.6 55.3L190.95 55.3M225.85 55.3L202.1 55.3A3.6 3.6 0 0 1 198.5 51.7L198.5 36.3A3.6 3.6 0 0 1 202.1 32.7L219.15 32.7A3.6 3.6 0 0 1 222.75 36.3L222.75 41.75A2.16 2.16 0 0 1 220.59 43.91L198.5 43.91M233.5 18.9L233.5 51.7A3.6 3.6 0 0 0 237.1 55.3L243.1 55.3M269.6 25.5L291.65 25.5A3.6 3.6 0 0 1 295.25 29.1L295.25 51.7A3.6 3.6 0 0 1 291.65 55.3L269.6 55.3A3.6 3.6 0 0 1 266 51.7L266 29.1A3.6 3.6 0 0 1 269.6 25.5ZM307.9 70.75L307.9 33.1A0.4 0.4 0 0 1 308.3 32.7L328.5 32.7A3.6 3.6 0 0 1 332.1 36.3L332.1 51.7A3.6 3.6 0 0 1 328.5 55.3L307.9 55.3M342.1 70.75L342.1 33.1A0.4 0.4 0 0 1 342.5 32.7L362.3 32.7A3.6 3.6 0 0 1 365.9 36.3L365.9 51.7A3.6 3.6 0 0 1 362.3 55.3L342.1 55.3M380.2 32.7L396 32.7A3.6 3.6 0 0 1 399.6 36.3L399.6 51.7A3.6 3.6 0 0 1 396 55.3L380.2 55.3A3.6 3.6 0 0 1 376.6 51.7L376.6 36.3A3.6 3.6 0 0 1 380.2 32.7ZM436.7 32.7L414 32.7A3.6 3.6 0 0 0 410.4 36.3L410.4 40.4A3.6 3.6 0 0 0 414 44L430.1 44A3.6 3.6 0 0 1 433.7 47.6L433.7 51.7A3.6 3.6 0 0 1 430.1 55.3L407.4 55.3M472.1 55.3L449 55.3A3.6 3.6 0 0 1 445.4 51.7L445.4 36.3A3.6 3.6 0 0 1 449 32.7L465.4 32.7A3.6 3.6 0 0 1 469 36.3L469 41.75A2.16 2.16 0 0 1 466.84 43.91L445.4 43.91M504.25 18.9L504.25 55.3L484 55.3A3.6 3.6 0 0 1 480.4 51.7L480.4 36.3A3.6 3.6 0 0 1 484 32.7L504.25 32.7M531.6 25.5L557.9 25.5A3.6 3.6 0 0 1 561.5 29.1L561.5 51.7A3.6 3.6 0 0 1 557.9 55.3L531.6 55.3L531.6 25.5ZM577.7 32.7L594.15 32.7A3.6 3.6 0 0 1 597.75 36.3L597.75 51.7A3.6 3.6 0 0 1 594.15 55.3L577.7 55.3A3.6 3.6 0 0 1 574.1 51.7L574.1 36.3A3.6 3.6 0 0 1 577.7 32.7ZM634.5 32.7L612.1 32.7A3.6 3.6 0 0 0 608.5 36.3L608.5 40.4A3.6 3.6 0 0 0 612.1 44L627.9 44A3.6 3.6 0 0 1 631.5 47.6L631.5 51.7A3.6 3.6 0 0 1 627.9 55.3L605.5 55.3M670.2 55.3L647.1 55.3A3.6 3.6 0 0 1 643.5 51.7L643.5 36.3A3.6 3.6 0 0 1 647.1 32.7L663.5 32.7A3.6 3.6 0 0 1 667.1 36.3L667.1 41.75A2.16 2.16 0 0 1 664.94 43.91L643.5 43.91M694.4 25.5L721 25.5A3.6 3.6 0 0 1 724.6 29.1L724.6 51.7A3.6 3.6 0 0 1 721 55.3L694.4 55.3L694.4 25.5ZM735.65 30L735.65 58.8M735.65 18.9L735.65 25.9M774.25 32.7L750.85 32.7A3.6 3.6 0 0 0 747.25 36.3L747.25 40.4A3.6 3.6 0 0 0 750.85 44L767.65 44A3.6 3.6 0 0 1 771.25 47.6L771.25 51.7A3.6 3.6 0 0 1 767.65 55.3L744.25 55.3M782.55 18.9L782.55 51.7A3.6 3.6 0 0 0 786.15 55.3L797.8 55.3M779.05 32.7L797.8 32.7M804.75 58.8L804.75 36.3A3.6 3.6 0 0 1 808.35 32.7L825.3 32.7M832.38 30L832.38 58.8M832.38 18.9L832.38 25.9M844.1 18.9L844.1 55.3L864.15 55.3A3.6 3.6 0 0 0 867.75 51.7L867.75 36.3A3.6 3.6 0 0 0 864.15 32.7L844.1 32.7M878.5 29.2L878.5 51.7A3.6 3.6 0 0 0 882.1 55.3L900.5 55.3A1 1 0 0 0 901.5 54.3L901.5 29.2M912.7 18.9L912.7 51.7A3.6 3.6 0 0 0 916.3 55.3L927.7 55.3M909.2 32.7L927.7 32.7M935.15 30L935.15 58.8M935.15 18.9L935.15 25.9M950.3 32.7L966.65 32.7A3.6 3.6 0 0 1 970.25 36.3L970.25 51.7A3.6 3.6 0 0 1 966.65 55.3L950.3 55.3A3.6 3.6 0 0 1 946.7 51.7L946.7 36.3A3.6 3.6 0 0 1 950.3 32.7ZM981.4 58.8L981.4 33.3A0.6 0.6 0 0 1 982 32.7L1000.8 32.7A3.6 3.6 0 0 1 1004.4 36.3L1004.4 58.8" stroke-width="7"/>
<path d="M413.9 44L430.2 44M612 44L628 44M750.75 44L767.75 44" stroke-width="8.19"/>
</g>
<g fill="none" stroke="#de1b23" stroke-linejoin="round" stroke-linecap="butt">
<path d="M224.55 273.35L229.5 267.8M236.4 272.19L240.3 267.8" stroke-width="3"/>
<path d="M230.65 266.3L230.65 285.7M241.45 266.3L241.45 285.7M250.6 268.25L260.15 268.25A2.4 2.4 0 0 1 262.55 270.65L262.55 281.35A2.4 2.4 0 0 1 260.15 283.75L250.6 283.75A2.4 2.4 0 0 1 248.2 281.35L248.2 270.65A2.4 2.4 0 0 1 250.6 268.25ZM249.95 282L260.8 270" stroke-width="3.9"/>
<path d="M272.05 268.45L272.65 268.45A2.4 2.4 0 0 1 275.05 270.85L275.05 271.45A2.4 2.4 0 0 1 272.65 273.85L272.05 273.85A2.4 2.4 0 0 1 269.65 271.45L269.65 270.85A2.4 2.4 0 0 1 272.05 268.45ZM287.35 278.35L287.95 278.35A2.4 2.4 0 0 1 290.35 280.75L290.35 281.35A2.4 2.4 0 0 1 287.95 283.75L287.35 283.75A2.4 2.4 0 0 1 284.95 281.35L284.95 280.75A2.4 2.4 0 0 1 287.35 278.35Z" stroke-width="3.1"/>
<path d="M270.8 285.3L289.1 266.7" stroke-width="3.4"/>
</g>
<g fill="none" stroke="#f5a623" stroke-linejoin="round" stroke-linecap="butt">
<path d="M566.4 273.95L571.9 267.8M665.9 273.6L669.9 273.6A0.5 0.5 0 0 1 670.4 274.1L670.4 278.7A0.5 0.5 0 0 1 669.9 279.2L665.9 279.2A1.4 1.4 0 0 1 664.5 277.8L664.5 275A1.4 1.4 0 0 1 665.9 273.6Z" stroke-width="3"/>
<path d="M573.05 266.3L573.05 286M581.85 268.25L591.95 268.25A2.4 2.4 0 0 1 594.35 270.65L594.35 281.65A2.4 2.4 0 0 1 591.95 284.05L581.85 284.05A2.4 2.4 0 0 1 579.45 281.65L579.45 270.65A2.4 2.4 0 0 1 581.85 268.25ZM581.2 282.3L592.6 270M604.35 268.25L614.45 268.25A2.4 2.4 0 0 1 616.85 270.65L616.85 281.65A2.4 2.4 0 0 1 614.45 284.05L604.35 284.05A2.4 2.4 0 0 1 601.95 281.65L601.95 270.65A2.4 2.4 0 0 1 604.35 268.25ZM603.7 282.3L615.1 270M677.2 284.05L661.85 284.05A2.4 2.4 0 0 1 659.45 281.65L659.45 270.65A2.4 2.4 0 0 1 661.85 268.25L673.05 268.25A2.4 2.4 0 0 1 675.45 270.65L675.45 280.1M690.62 266.3L690.62 286M713.9 268.25L699.35 268.25A2.4 2.4 0 0 0 696.95 270.65L696.95 273.75A2.4 2.4 0 0 0 699.35 276.15L710.05 276.15A2.4 2.4 0 0 1 712.45 278.55L712.45 281.65A2.4 2.4 0 0 1 710.05 284.05L695.5 284.05M721.85 268.25L732.55 268.25A2.4 2.4 0 0 1 734.95 270.65L734.95 281.65A2.4 2.4 0 0 1 732.55 284.05L721.85 284.05A2.4 2.4 0 0 1 719.45 281.65L719.45 270.65A2.4 2.4 0 0 1 721.85 268.25Z" stroke-width="3.9"/>
<path d="M627.05 268.45L627.65 268.45A2.4 2.4 0 0 1 630.05 270.85L630.05 271.45A2.4 2.4 0 0 1 627.65 273.85L627.05 273.85A2.4 2.4 0 0 1 624.65 271.45L624.65 270.85A2.4 2.4 0 0 1 627.05 268.45ZM641.75 278.65L642.35 278.65A2.4 2.4 0 0 1 644.75 281.05L644.75 281.65A2.4 2.4 0 0 1 642.35 284.05L641.75 284.05A2.4 2.4 0 0 1 639.35 281.65L639.35 281.05A2.4 2.4 0 0 1 641.75 278.65Z" stroke-width="3.1"/>
<path d="M625.8 285.6L643.5 266.7" stroke-width="3.4"/>
<path d="M670.3 276.4L674 276.4" stroke-width="8.6"/>
</g>
<g fill="none" stroke="#d0e033" stroke-linejoin="round" stroke-linecap="butt">
<path d="M584.05 346.12L570.6 346.12A2.4 2.4 0 0 1 568.2 343.72L568.2 341.65A2.4 2.4 0 0 1 570.6 339.25L581.65 339.25A2.4 2.4 0 0 1 584.05 341.65L584.05 352.55A2.4 2.4 0 0 1 581.65 354.95L566.65 354.95M593.75 339.25L603.85 339.25A2.4 2.4 0 0 1 606.25 341.65L606.25 352.55A2.4 2.4 0 0 1 603.85 354.95L593.75 354.95A2.4 2.4 0 0 1 591.35 352.55L591.35 341.65A2.4 2.4 0 0 1 593.75 339.25ZM593.1 353.2L604.5 341" stroke-width="3.9"/>
<path d="M616.45 339.45L617.05 339.45A2.4 2.4 0 0 1 619.45 341.85L619.45 342.45A2.4 2.4 0 0 1 617.05 344.85L616.45 344.85A2.4 2.4 0 0 1 614.05 342.45L614.05 341.85A2.4 2.4 0 0 1 616.45 339.45ZM631.05 349.55L631.65 349.55A2.4 2.4 0 0 1 634.05 351.95L634.05 352.55A2.4 2.4 0 0 1 631.65 354.95L631.05 354.95A2.4 2.4 0 0 1 628.65 352.55L628.65 351.95A2.4 2.4 0 0 1 631.05 349.55Z" stroke-width="3.1"/>
<path d="M615.2 356.5L632.8 337.7" stroke-width="3.4"/>
</g>
<g fill="none" stroke="#32e838" stroke-linejoin="round" stroke-linecap="butt">
<path d="M562.3 394.85L574.4 394.85A2.4 2.4 0 0 1 576.8 397.25L576.8 412.9M586.25 394.85L596.35 394.85A2.4 2.4 0 0 1 598.75 397.25L598.75 408.55A2.4 2.4 0 0 1 596.35 410.95L586.25 410.95A2.4 2.4 0 0 1 583.85 408.55L583.85 397.25A2.4 2.4 0 0 1 586.25 394.85ZM585.6 409.2L597 396.6" stroke-width="3.9"/>
<path d="M608.95 395.05L609.55 395.05A2.4 2.4 0 0 1 611.95 397.45L611.95 398.05A2.4 2.4 0 0 1 609.55 400.45L608.95 400.45A2.4 2.4 0 0 1 606.55 398.05L606.55 397.45A2.4 2.4 0 0 1 608.95 395.05ZM623.55 405.55L624.15 405.55A2.4 2.4 0 0 1 626.55 407.95L626.55 408.55A2.4 2.4 0 0 1 624.15 410.95L623.55 410.95A2.4 2.4 0 0 1 621.15 408.55L621.15 407.95A2.4 2.4 0 0 1 623.55 405.55Z" stroke-width="3.1"/>
<path d="M607.7 412.5L625.3 393.3" stroke-width="3.4"/>
</g>
<g fill="none" stroke="#2f9ff0" stroke-linejoin="round" stroke-linecap="butt">
<path d="M585.6 468.25L569 468.25A0.8 0.8 0 0 0 568.2 469.05L568.2 474.17A0.8 0.8 0 0 0 569 474.97L581.65 474.97A2.4 2.4 0 0 1 584.05 477.37L584.05 481.65A2.4 2.4 0 0 1 581.65 484.05L566.65 484.05M593.75 468.25L604.05 468.25A2.4 2.4 0 0 1 606.45 470.65L606.45 481.65A2.4 2.4 0 0 1 604.05 484.05L593.75 484.05A2.4 2.4 0 0 1 591.35 481.65L591.35 470.65A2.4 2.4 0 0 1 593.75 468.25ZM593.1 482.3L604.7 470" stroke-width="3.9"/>
<path d="M616.85 468.45L617.45 468.45A2.4 2.4 0 0 1 619.85 470.85L619.85 471.45A2.4 2.4 0 0 1 617.45 473.85L616.85 473.85A2.4 2.4 0 0 1 614.45 471.45L614.45 470.85A2.4 2.4 0 0 1 616.85 468.45ZM631.05 478.65L631.65 478.65A2.4 2.4 0 0 1 634.05 481.05L634.05 481.65A2.4 2.4 0 0 1 631.65 484.05L631.05 484.05A2.4 2.4 0 0 1 628.65 481.65L628.65 481.05A2.4 2.4 0 0 1 631.05 478.65Z" stroke-width="3.1"/>
<path d="M615.6 485.6L632.8 466.7" stroke-width="3.4"/>
</g>
<clipPath id="fc"><rect x="0" y="487.9" width="1024" height="11.3"/></clipPath>
<g clip-path="url(#fc)" fill="none" stroke-linejoin="round" stroke-linecap="butt" stroke-width="3.6">
<path d="M20.2 489.7L26.4 489.7A3.3 3.3 0 0 1 29.7 493L29.7 494.1A3.3 3.3 0 0 1 26.4 497.4L20.2 497.4A3.3 3.3 0 0 1 16.9 494.1L16.9 493A3.3 3.3 0 0 1 20.2 489.7ZM35.3 501.2L35.3 487.5L45 499.6L45 485.9M62.8 489.7L53.85 489.7A3.3 3.3 0 0 0 50.55 493L50.55 494.1A3.3 3.3 0 0 0 53.85 497.4L62.8 497.4M69.85 489.7L76.9 489.7A3.3 3.3 0 0 1 80.2 493L80.2 494.1A3.3 3.3 0 0 1 76.9 497.4L69.85 497.4A3.3 3.3 0 0 1 66.55 494.1L66.55 493A3.3 3.3 0 0 1 69.85 489.7ZM85.3 487.9L85.3 496.4A1 1 0 0 0 86.3 497.4L94.3 497.4M101.35 489.7L108.3 489.7A3.3 3.3 0 0 1 111.6 493L111.6 494.1A3.3 3.3 0 0 1 108.3 497.4L101.35 497.4A3.3 3.3 0 0 1 98.05 494.1L98.05 493A3.3 3.3 0 0 1 101.35 489.7ZM129 489.7L120.1 489.7A3.3 3.3 0 0 0 116.8 493L116.8 494.1A3.3 3.3 0 0 0 120.1 497.4L126.2 497.4A1 1 0 0 0 127.2 496.4L127.2 494.15L122 494.15M131.2 487.9L138.6 494.12L146 487.9M138.6 493.62L138.6 499.2" stroke="#38a6d8"/>
<path d="M147.3 499.2L150.9 488.5L156.07 498.2L161.25 488.5L164.85 499.2M180.7 489.7L170.6 489.7A1 1 0 0 0 169.6 490.7L169.6 496.4A1 1 0 0 0 170.6 497.4L180.7 497.4M169.6 493.55L179.9 493.55M184.1 489.7L193.6 489.7A3.3 3.3 0 0 1 196.9 493L196.9 494.1A3.3 3.3 0 0 1 193.6 497.4L184.1 497.4L184.1 489.7ZM202.35 487.9L202.35 499.2M219.8 489.7L211.2 489.7A3.3 3.3 0 0 0 207.9 493L207.9 494.1A3.3 3.3 0 0 0 211.2 497.4L219.8 497.4M221 499.2L228.74 489.7L235 489.7A1.2 1.2 0 0 1 236.2 490.9L236.2 499.2M225.18 495.36L236.2 495.36M241.6 487.9L241.6 496.4A1 1 0 0 0 242.6 497.4L251.1 497.4" stroke="#2f7fd8"/>
<path d="M254.8 499.2L254.8 489.7L263.9 489.7A2.6 2.6 0 0 1 266.5 492.3L266.5 492.3A2.6 2.6 0 0 1 263.9 494.91L254.8 494.91M272 487.9L272 499.2M282.1 487.9L282.1 499.2M272 493.55L282.1 493.55M285.7 487.9L293.2 494.12L300.7 487.9M293.2 493.62L293.2 499.2M317.1 489.7L306.52 489.7A1.92 1.92 0 0 0 304.6 491.62L304.6 491.62A1.92 1.92 0 0 0 306.52 493.55L313.38 493.55A1.93 1.93 0 0 1 315.3 495.47L315.3 495.47A1.93 1.93 0 0 1 313.38 497.4L302.8 497.4M321.2 487.9L321.2 499.2M339 489.7L330.4 489.7A3.3 3.3 0 0 0 327.1 493L327.1 494.1A3.3 3.3 0 0 0 330.4 497.4L339 497.4M355.8 489.7L344.62 489.7A1.92 1.92 0 0 0 342.7 491.62L342.7 491.62A1.92 1.92 0 0 0 344.62 493.55L352.07 493.55A1.93 1.93 0 0 1 354 495.47L354 495.47A1.93 1.93 0 0 1 352.07 497.4L340.9 497.4M359 495.6L359 499.2M376.3 489.7L367.4 489.7A3.3 3.3 0 0 0 364.1 493L364.1 494.1A3.3 3.3 0 0 0 367.4 497.4L376.3 497.4M383 489.7L389.9 489.7A3.3 3.3 0 0 1 393.2 493L393.2 494.1A3.3 3.3 0 0 1 389.9 497.4L383 497.4A3.3 3.3 0 0 1 379.7 494.1L379.7 493A3.3 3.3 0 0 1 383 489.7ZM396.9 499.2L400.5 488.5L405.8 498.2L411.1 488.5L414.7 499.2" stroke="#38a6d8"/>
</g>
</svg>
</body>
</html>
